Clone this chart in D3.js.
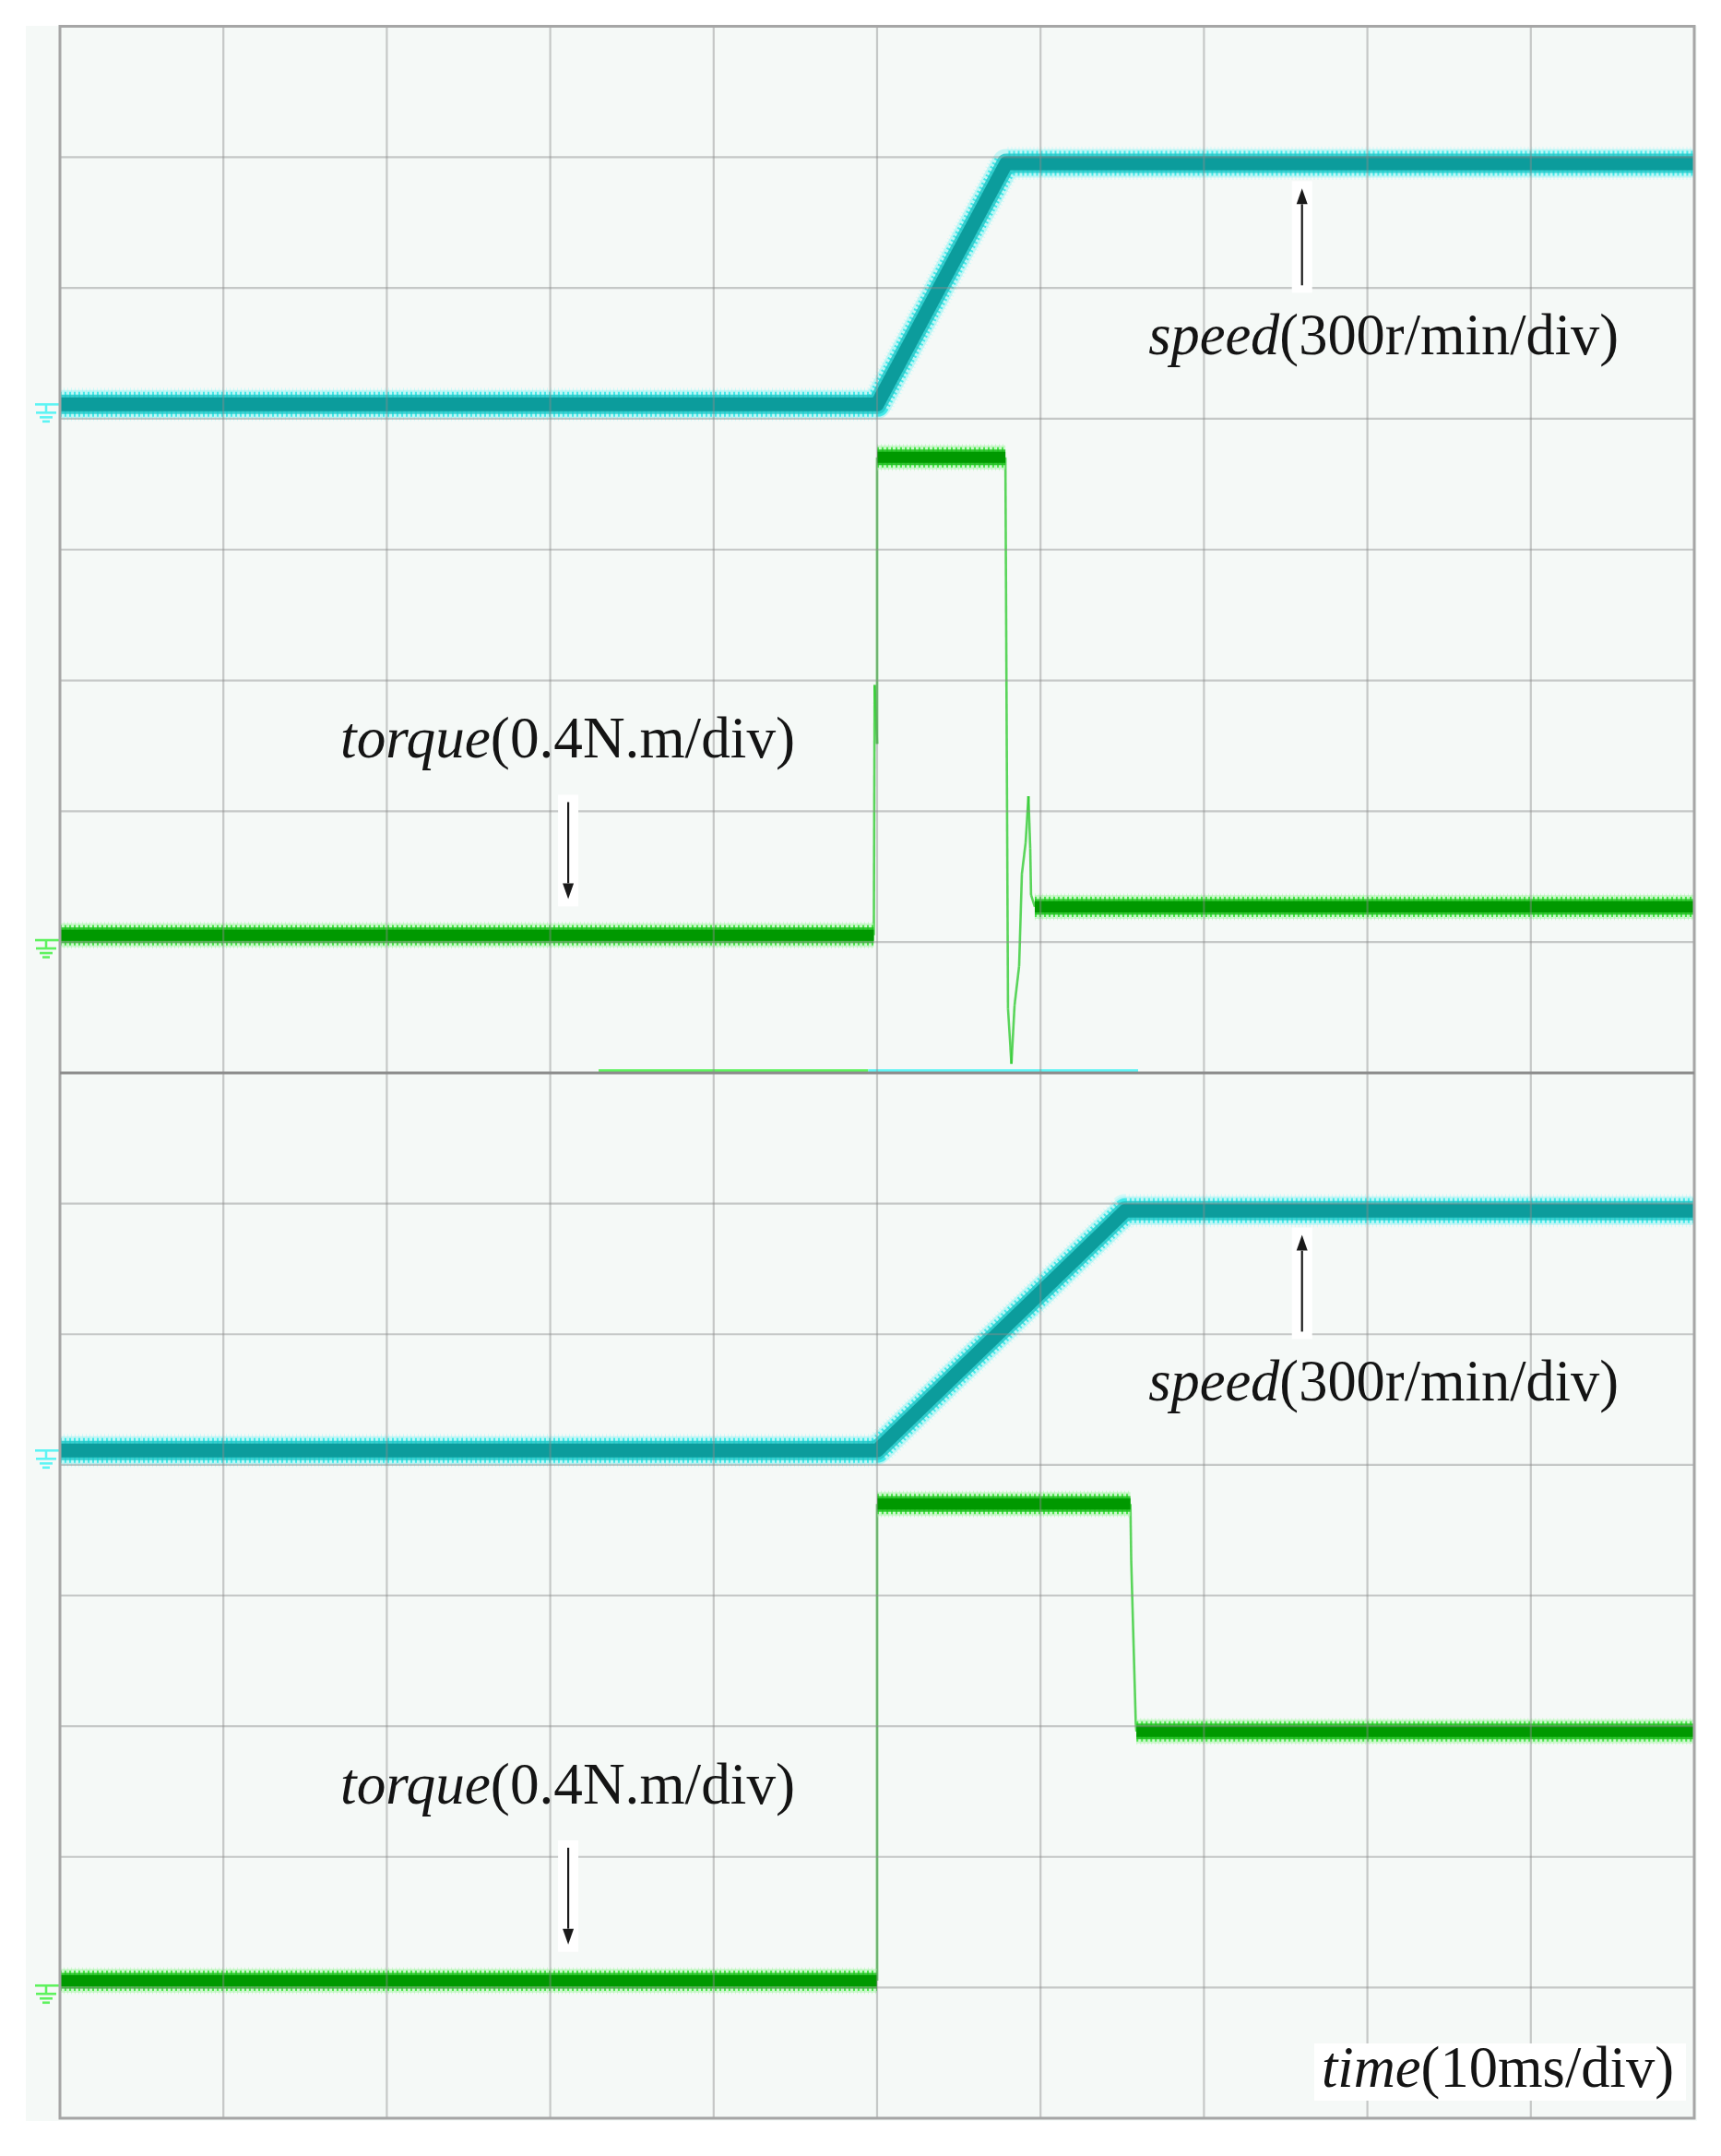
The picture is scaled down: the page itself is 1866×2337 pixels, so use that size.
<!DOCTYPE html>
<html>
<head>
<meta charset="utf-8">
<script src="https://cdn.jsdelivr.net/npm/d3@7"></script>
<style>
  html, body { margin: 0; padding: 0; background: #ffffff; }
  svg { display: block; }
</style>
</head>
<body>
<svg id="chart" width="1866" height="2337"></svg>
<script>
// ---------------- DATA ----------------
// time axis: 10 ms/div, 10 divisions
const timeTicks = [0, 10, 20, 30, 40, 50, 60, 70, 80, 90, 100];   // ms
const divTicks  = [0, 1, 2, 3, 4, 5, 6, 7, 8];                     // vertical divisions
const speedPerDiv  = 300;   // r/min per div
const torquePerDiv = 0.4;   // N.m per div
const speedGroundDiv  = 5.11;  // ground marker position (div from panel bottom)
const torqueGroundDiv = 1.015;

// Panel (a): upper oscillogram
const speedA_t  = [0, 50, 57.9, 100];
const speedA_v  = [0, 0, 553, 553];
const torqueA_t = [0, 49.8, 49.85, 50, 50, 57.85, 58.01, 58.22, 58.41, 58.69, 58.86, 59.09, 59.26, 59.37, 59.42, 59.65, 100];
const torqueA_v = [0.015, 0.015, 0.78, 0.60, 1.476, 1.476, -0.21, -0.378, -0.200, -0.079, 0.203, 0.299, 0.440, 0.280, 0.138, 0.102, 0.102];
// off-screen (clipped) trace remnants at the bottom edge of panel (a)
const clipTorqueA_t = [32.96, 49.46];
const clipSpeedA_t  = [49.46, 65.97];

// Panel (b): lower oscillogram
const speedB_t  = [0, 50, 65.2, 100];
const speedB_v  = [0, 0, 551, 551];
const torqueB_t = [0, 50, 50, 65.5, 65.55, 65.83, 65.87, 100];
const torqueB_v = [0.015, 0.015, 1.474, 1.474, 1.30, 0.80, 0.778, 0.778];

// label texts
const speedLabel  = ["speed", "(300r/min/div)"];
const torqueLabel = ["torque", "(0.4N.m/div)"];
const timeLabel   = ["time", "(10ms/div)"];

// ---------------- LAYOUT ----------------
const svg = d3.select("#chart");
const X0 = 65, X1 = 1837;
const panels = [
  { top: 28.5, bottom: 1163, speed: [speedA_t, speedA_v], torque: [torqueA_t, torqueA_v], clip: true, time: false },
  { top: 1163, bottom: 2296, speed: [speedB_t, speedB_v], torque: [torqueB_t, torqueB_v], clip: false, time: true }
];
const x = d3.scaleLinear().domain([0, 100]).range([X0, X1]);

// outer light background
svg.append("rect").attr("x", 28).attr("y", 28).attr("width", 1812).attr("height", 2271).attr("fill", "#f5f9f7");

const FONT = "'Liberation Serif', 'Times New Roman', serif";

function zipPts(t, v) { return t.map((d, i) => [d, v[i]]); }

function drawTrace(g, pts, xs, ys, style) {
  const P = pts.map(p => [xs(p[0]), ys(p[1])]);
  // split into thick (steady / ramp) runs and thin (fast transition) segments
  const runs = []; let cur = null; const thin = [];
  for (let i = 0; i < P.length - 1; i++) {
    const a = P[i], b = P[i + 1];
    const dx = Math.abs(b[0] - a[0]), dy = Math.abs(b[1] - a[1]);
    const thick = dy < 3 * dx;
    if (thick) {
      if (!cur) { cur = [a]; runs.push(cur); }
      cur.push(b);
    } else {
      cur = null;
      thin.push([a, b]);
    }
  }
  const line = d3.line();
  thin.forEach(s => {
    g.append("path").attr("d", line(s)).attr("fill", "none")
      .attr("stroke", style.thin).attr("stroke-width", 2.6).attr("stroke-opacity", 0.8);
  });
  style.layers.forEach(L => {
    runs.forEach(r => {
      g.append("path").attr("d", line(r)).attr("fill", "none")
        .attr("stroke", L.c).attr("stroke-width", L.w).attr("stroke-opacity", L.o)
        .attr("stroke-linejoin", "round").attr("stroke-linecap", "butt")
        .attr("stroke-dasharray", L.dash || null);
    });
  });
}

const speedStyle = {
  thin: "#22cccc",
  layers: [
    { w: 36, c: "#a8f8f8", o: 0.45, dash: "1 3" },
    { w: 31, c: "#8ff4f4", o: 0.5 },
    { w: 27, c: "#35e8e8", o: 0.9, dash: "2 3" },
    { w: 21, c: "#22c8c8", o: 0.85 },
    { w: 15, c: "#0c9c9c", o: 1 }
  ]
};
const torqueStyle = {
  thin: "#33cc33",
  layers: [
    { w: 29, c: "#aaf5aa", o: 0.45, dash: "1 3" },
    { w: 26, c: "#a4f5a4", o: 0.5 },
    { w: 22, c: "#3ae23a", o: 0.9, dash: "2 3" },
    { w: 17, c: "#20c020", o: 0.9 },
    { w: 12, c: "#009900", o: 1 }
  ]
};

function groundMarker(g, y, color) {
  const s = g.append("g").attr("stroke", color).attr("stroke-width", 2.6);
  s.append("line").attr("x1", 38).attr("x2", X0).attr("y1", y).attr("y2", y);
  s.append("line").attr("x1", 50).attr("x2", 50).attr("y1", y).attr("y2", y + 8);
  s.append("line").attr("x1", 39).attr("x2", 61).attr("y1", y + 9).attr("y2", y + 9);
  s.append("line").attr("x1", 43).attr("x2", 57).attr("y1", y + 14).attr("y2", y + 14);
  s.append("line").attr("x1", 46).attr("x2", 54).attr("y1", y + 18.5).attr("y2", y + 18.5);
}

function label(g, xp, yp, parts, width) {
  const t = g.append("text").attr("x", xp).attr("y", yp)
    .attr("font-family", FONT).attr("font-size", 63).attr("fill", "#141414")
    .attr("textLength", width).attr("lengthAdjust", "spacingAndGlyphs");
  t.append("tspan").attr("font-style", "italic").text(parts[0]);
  t.append("tspan").text(parts[1]);
}

function arrow(g, xp, y1, y2) {
  const up = y2 < y1;
  const top = Math.min(y1, y2), bot = Math.max(y1, y2);
  g.append("rect").attr("x", xp - 11).attr("y", top - 8).attr("width", 22).attr("height", bot - top + 16).attr("fill", "#ffffff");
  const tipBase = up ? y2 + 17 : y2 - 17;
  g.append("line").attr("x1", xp).attr("x2", xp).attr("y1", y1).attr("y2", tipBase)
    .attr("stroke", "#1a1a1a").attr("stroke-width", 2.2);
  g.append("path").attr("d", `M${xp - 6},${tipBase} L${xp + 6},${tipBase} L${xp},${y2} Z`).attr("fill", "#1a1a1a");
}

panels.forEach(p => {
  const g = svg.append("g");
  const yDiv = d3.scaleLinear().domain([0, 8]).range([p.bottom, p.top]);
  const ySpeed = d3.scaleLinear()
    .domain([(0 - speedGroundDiv) * speedPerDiv, (8 - speedGroundDiv) * speedPerDiv]).range([p.bottom, p.top]);
  const yTorque = d3.scaleLinear()
    .domain([(0 - torqueGroundDiv) * torquePerDiv, (8 - torqueGroundDiv) * torquePerDiv]).range([p.bottom, p.top]);

  g.append("rect").attr("x", X0).attr("y", p.top).attr("width", X1 - X0).attr("height", p.bottom - p.top).attr("fill", "#f5f9f7");

  const clipId = "clip" + Math.round(p.top);
  svg.append("clipPath").attr("id", clipId).append("rect")
    .attr("x", X0).attr("y", p.top).attr("width", X1 - X0).attr("height", p.bottom - p.top);
  const tg = g.append("g").attr("clip-path", `url(#${clipId})`);

  drawTrace(tg, zipPts(p.speed[0], p.speed[1]), x, ySpeed, speedStyle);
  drawTrace(tg, zipPts(p.torque[0], p.torque[1]), x, yTorque, torqueStyle);

  if (p.clip) {
    tg.append("line").attr("x1", x(clipTorqueA_t[0])).attr("x2", x(clipTorqueA_t[1]))
      .attr("y1", p.bottom - 2.5).attr("y2", p.bottom - 2.5).attr("stroke", "#5ef25e").attr("stroke-width", 3);
    tg.append("line").attr("x1", x(clipSpeedA_t[0])).attr("x2", x(clipSpeedA_t[1]))
      .attr("y1", p.bottom - 2.5).attr("y2", p.bottom - 2.5).attr("stroke", "#5ef4f4").attr("stroke-width", 3);
  }

  // grid (drawn over the traces, semi transparent like the scope screen)
  const grid = g.append("g").attr("stroke", "rgb(140,140,140)").attr("stroke-opacity", 0.45).attr("stroke-width", 2.2);
  timeTicks.slice(1, -1).forEach(t => {
    grid.append("line").attr("x1", x(t)).attr("x2", x(t)).attr("y1", p.top).attr("y2", p.bottom);
  });
  divTicks.slice(1, -1).forEach(d => {
    grid.append("line").attr("x1", X0).attr("x2", X1).attr("y1", yDiv(d)).attr("y2", yDiv(d));
  });

  // ground markers
  groundMarker(g, yDiv(speedGroundDiv), "#5ef4f4");
  groundMarker(g, yDiv(torqueGroundDiv), "#5ef25e");

  // annotations
  label(g, x(66.6), yDiv(5.49), speedLabel, 510);
  arrow(g, x(76.0), yDiv(6.02), yDiv(6.76));
  label(g, x(17.16), yDiv(2.41), torqueLabel, 493);
  arrow(g, x(31.1), yDiv(2.07), yDiv(1.33));

  if (p.time) {
    g.append("rect").attr("x", 1425).attr("y", 2215).attr("width", 403).attr("height", 62).attr("fill", "#ffffff");
    label(g, x(77.2), yDiv(0.242), timeLabel, 382);
  }
});

// borders
svg.append("rect").attr("x", X0).attr("y", 28.5).attr("width", X1 - X0).attr("height", 2296 - 28.5)
  .attr("fill", "none").attr("stroke", "#a6a6a6").attr("stroke-width", 3);
svg.append("line").attr("x1", X0).attr("x2", X1).attr("y1", 1163).attr("y2", 1163)
  .attr("stroke", "#8c8c8c").attr("stroke-width", 3);
</script>
</body>
</html>
